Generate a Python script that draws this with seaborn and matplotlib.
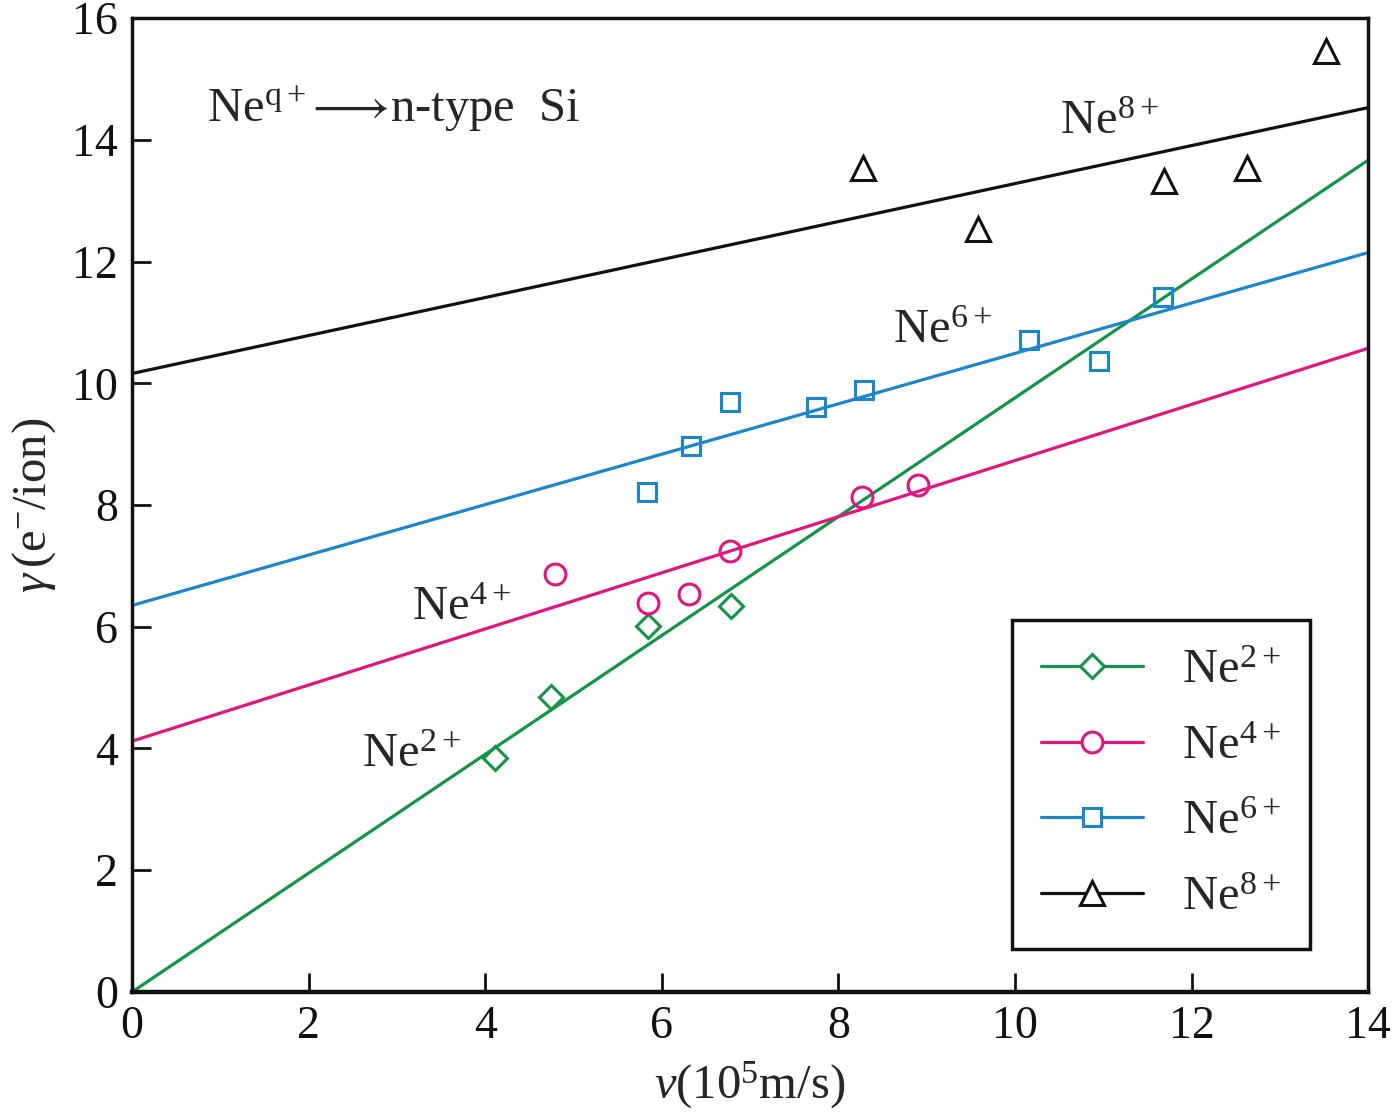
import numpy as np
import pandas as pd
import matplotlib
matplotlib.use("Agg")
import matplotlib.pyplot as plt
import seaborn as sns
from matplotlib.lines import Line2D

# ---- data ----
ne2_x = [4.11, 4.75, 5.84, 6.78]
ne2_y = [3.84, 4.84, 6.01, 6.34]
ne4_x = [4.79, 5.84, 6.31, 6.77, 8.27, 8.90]
ne4_y = [6.86, 6.39, 6.54, 7.24, 8.13, 8.33]
ne6_x = [5.83, 6.33, 6.77, 7.75, 8.29, 10.16, 10.95, 11.68]
ne6_y = [8.21, 8.97, 9.70, 9.61, 9.89, 10.71, 10.36, 11.41]
ne8_x = [8.28, 9.58, 11.69, 12.63, 13.52]
ne8_y = [13.53, 12.53, 13.33, 13.53, 15.45]

series = ["Ne2+", "Ne4+", "Ne6+", "Ne8+"]
labels = [r"Ne$^{2+}$", r"Ne$^{4+}$", r"Ne$^{6+}$", r"Ne$^{8+}$"]
fit_intercept = [0.0, 4.12, 6.35, 10.16]
fit_slope = [0.976, 0.461, 0.414, 0.312]
fit_x_range = [0.0, 14.0]

xticks = [0, 2, 4, 6, 8, 10, 12, 14]
yticks = [0, 2, 4, 6, 8, 10, 12, 14, 16]

colors = ["#139447", "#e0157f", "#1a86cc", "#111111"]
markers = ["D", "o", "s", "^"]
msizes = [12, 15, 13, 17]

# ---- style ----
sns.set_theme(style="ticks")
plt.rcParams["font.family"] = ["Liberation Serif", "DejaVu Serif"]
plt.rcParams["mathtext.fontset"] = "custom"
plt.rcParams["mathtext.rm"] = "Liberation Serif"
plt.rcParams["mathtext.it"] = "Liberation Serif:italic"
plt.rcParams["mathtext.bf"] = "Liberation Serif:bold"

FS = 33
TFS = 35

fig = plt.figure(figsize=(14, 11.19), dpi=100)
ax = fig.add_axes([0.0943, 0.1135, 0.8829, 0.8704])

pts = pd.concat([
    pd.DataFrame({"x": ne2_x, "y": ne2_y, "s": "Ne2+"}),
    pd.DataFrame({"x": ne4_x, "y": ne4_y, "s": "Ne4+"}),
    pd.DataFrame({"x": ne6_x, "y": ne6_y, "s": "Ne6+"}),
    pd.DataFrame({"x": ne8_x, "y": ne8_y, "s": "Ne8+"}),
])

fits = []
for s, b, m in zip(series, fit_intercept, fit_slope):
    xs = np.array(fit_x_range)
    fits.append(pd.DataFrame({"x": xs, "y": b + m * xs, "s": s}))
fits = pd.concat(fits)

for s, c in zip(series, colors):
    sns.lineplot(data=fits[fits.s == s], x="x", y="y", color=c, lw=2.3,
                 ax=ax, legend=False, zorder=2)

for s, c, mk, ms in zip(series, colors, markers, msizes):
    sub = pts[pts.s == s]
    ax.plot(sub.x, sub.y, linestyle="none", marker=mk, markersize=ms,
            markerfacecolor="none", markeredgecolor=c, markeredgewidth=2.2,
            zorder=3)

ax.set_xlim(0, 14)
ax.set_ylim(0, 16)
ax.set_xticks(xticks)
ax.set_yticks(yticks)
ax.tick_params(direction="in", length=14, width=2, labelsize=FS, pad=10,
               top=False, right=False, colors="#111111")
for sp in ax.spines.values():
    sp.set_linewidth(2.5)
    sp.set_color("#111111")
ax.spines["bottom"].set_linewidth(3.2)

ax.set_xlabel(r"$\mathit{v}$(10$^{5}$m/s)", fontsize=TFS, labelpad=8)
ax.set_ylabel(r"$\mathit{\gamma}\,$(e$^{-}$/ion)", fontsize=TFS, labelpad=10)

# annotations
ax.text(0.85, 14.29, r"Ne$^{\mathrm{q+}}\!\longrightarrow\!$n-type  Si",
        fontsize=TFS, va="baseline", ha="left")
ax.text(10.51, 14.1, r"Ne$^{8+}$", fontsize=TFS, va="baseline", ha="left")
ax.text(8.62, 10.66, r"Ne$^{6+}$", fontsize=TFS, va="baseline", ha="left")
ax.text(3.17, 6.11, r"Ne$^{4+}$", fontsize=TFS, va="baseline", ha="left")
ax.text(2.60, 3.69, r"Ne$^{2+}$", fontsize=TFS, va="baseline", ha="left")

handles = [Line2D([0], [0], color=c, lw=2.3, marker=mk, markersize=ms,
                  markerfacecolor="white", markeredgecolor=c,
                  markeredgewidth=2.2)
           for c, mk, ms in zip(colors, markers, msizes)]
leg = ax.legend(handles, labels, loc="upper right",
                bbox_to_anchor=(0.953, 0.382), borderaxespad=0,
                fontsize=TFS, frameon=True, fancybox=False, framealpha=1,
                edgecolor="#111111", handlelength=2.1, handletextpad=0.8,
                labelspacing=0.65, borderpad=0.6, numpoints=1)
leg.get_frame().set_linewidth(2.5)

fig.savefig("out.png", dpi=100)
